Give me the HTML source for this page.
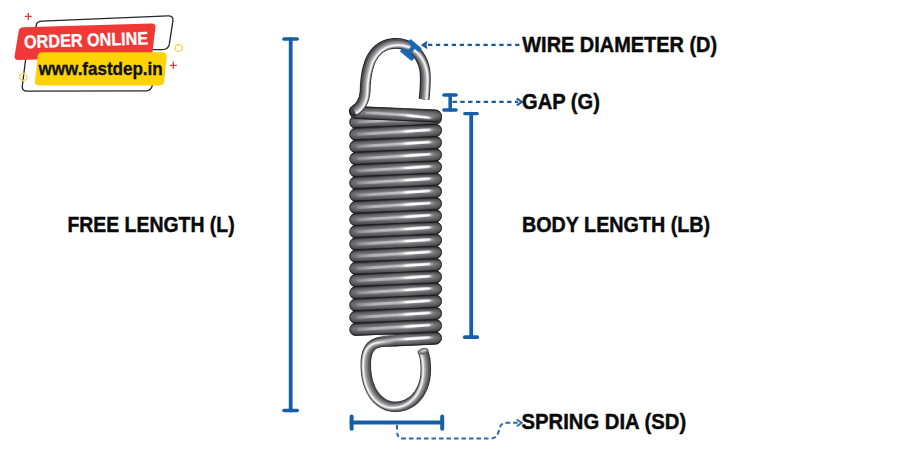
<!DOCTYPE html>
<html><head><meta charset="utf-8">
<style>
html,body{margin:0;padding:0;background:#fff;width:900px;height:450px;overflow:hidden}
svg{display:block}
text{font-family:"Liberation Sans",sans-serif;font-weight:bold}
</style></head>
<body>
<svg width="900" height="450" viewBox="0 0 900 450">
<defs>
  <linearGradient id="coilV" x1="0" y1="0" x2="0" y2="1">
    <stop offset="0" stop-color="#1e1e22"/>
    <stop offset="0.08" stop-color="#3c3c40"/>
    <stop offset="0.22" stop-color="#66666a"/>
    <stop offset="0.42" stop-color="#828286"/>
    <stop offset="0.62" stop-color="#76767a"/>
    <stop offset="0.85" stop-color="#525256"/>
    <stop offset="1" stop-color="#1e1e22"/>
  </linearGradient>

  
  <clipPath id="clipB19"><path d="M386 320 L450 320 L450 350 L386 350 Q380 345 386 320 Z"/></clipPath>
  <linearGradient id="coilV0" x1="0" y1="0" x2="0" y2="1">
    <stop offset="0" stop-color="#2a2a2e"/>
    <stop offset="0.25" stop-color="#4a4a4e"/>
    <stop offset="0.6" stop-color="#6a6a6e"/>
    <stop offset="1" stop-color="#55555a"/>
  </linearGradient>
  <linearGradient id="hl0" gradientUnits="userSpaceOnUse" x1="364" y1="0" x2="420" y2="0">
    <stop offset="0" stop-color="#fff" stop-opacity="0"/>
    <stop offset="0.35" stop-color="#fff" stop-opacity="0.6"/>
    <stop offset="0.7" stop-color="#fff" stop-opacity="0.45"/>
    <stop offset="1" stop-color="#fff" stop-opacity="0"/>
  </linearGradient>
  <linearGradient id="g0fade" gradientUnits="userSpaceOnUse" x1="356" y1="0" x2="420" y2="0">
    <stop offset="0" stop-color="#1c1c1f" stop-opacity="1"/>
    <stop offset="1" stop-color="#1c1c1f" stop-opacity="0"/>
  </linearGradient>
  <linearGradient id="b19fade" gradientUnits="userSpaceOnUse" x1="378" y1="0" x2="396" y2="0">
    <stop offset="0" stop-color="#fff" stop-opacity="0"/>
    <stop offset="1" stop-color="#fff" stop-opacity="1"/>
  </linearGradient>
  <mask id="maskB19" maskUnits="userSpaceOnUse" x="340" y="320" width="110" height="40"><rect x="340" y="320" width="110" height="40" fill="url(#b19fade)"/></mask>
  <linearGradient id="coilH" x1="0" y1="0" x2="1" y2="0">
    <stop offset="0" stop-color="#000" stop-opacity="0.25"/>
    <stop offset="0.08" stop-color="#000" stop-opacity="0.05"/>
    <stop offset="0.6" stop-color="#fff" stop-opacity="0.06"/>
    <stop offset="0.92" stop-color="#000" stop-opacity="0.05"/>
    <stop offset="1" stop-color="#000" stop-opacity="0.3"/>
  </linearGradient>
  <linearGradient id="hlH" gradientUnits="userSpaceOnUse" x1="4" y1="0" x2="84" y2="0">
    <stop offset="0" stop-color="#fff" stop-opacity="0.1"/>
    <stop offset="0.25" stop-color="#fff" stop-opacity="0.45"/>
    <stop offset="0.55" stop-color="#fff" stop-opacity="0.5"/>
    <stop offset="0.72" stop-color="#fff" stop-opacity="1"/>
    <stop offset="0.9" stop-color="#fff" stop-opacity="0.8"/>
    <stop offset="1" stop-color="#fff" stop-opacity="0.1"/>
  </linearGradient>
  <filter id="blur2" x="-10%" y="-10%" width="120%" height="120%"><feGaussianBlur stdDeviation="0.6"/></filter>
  <filter id="blur1" filterUnits="userSpaceOnUse" x="-1000" y="-1000" width="3000" height="3000"><feGaussianBlur stdDeviation="0.7"/></filter>

</defs>

<!-- ===== Badge ===== -->
<g id="badge">
  <!-- outlines -->
  <path d="M35.5 28.5 L36.6 24 Q37.5 21.3 42 21.1 L168 15.9 Q173.6 15.8 172.9 20.8 L169.3 44.4 Q168.3 49.6 162 49.6 L148 49.6" fill="none" stroke="#262626" stroke-width="1.3"/>
  <path d="M25.8 58 L22.3 86 Q21.9 91.2 27 91.2 L146.5 90.8 Q151 90.7 152.5 85" fill="none" stroke="#262626" stroke-width="1.3"/>
  <!-- red -->
  <path d="M23.5 27.2 L151.5 23.4 Q156 23.3 155.5 27.5 L152.4 52.5 Q152 56.3 148 56.4 L18.5 60 Q14.2 60.1 14.6 56 L18.6 31.5 Q19.2 27.3 23.5 27.2 Z" fill="#f03836"/>
  <!-- yellow -->
  <path d="M42.5 52.2 L162 52.2 Q167.2 52.2 166.7 56.8 L164.2 81.2 Q163.7 85.6 159.3 85.6 L39 85.6 Q34.6 85.6 35 81.2 L37.6 56.6 Q38.1 52.2 42.5 52.2 Z" fill="#fed305"/>
  <text transform="translate(24.2 48.2) rotate(-1.8) scale(0.89 1)" font-size="18.2" fill="#fff" stroke="#fff" stroke-width="0.3">ORDER ONLINE</text>
  <text transform="translate(38.6 74.9) scale(0.915 1)" font-size="18.6" fill="#111" stroke="#111" stroke-width="0.35">www.fastdep.in</text>
  <!-- plus signs -->
  <path d="M24.8 16.4 H31.8 M28.3 12.9 V19.9" stroke="#e0383b" stroke-width="1.3"/>
  <path d="M169.8 65.3 H176.8 M173.3 61.8 V68.8" stroke="#e0383b" stroke-width="1.3"/>
  <!-- circles -->
  <circle cx="178.7" cy="48" r="3.6" fill="none" stroke="#f0d860" stroke-width="1.5"/>
  <circle cx="23.1" cy="77" r="3.6" fill="none" stroke="#f0d860" stroke-width="1.5"/>
</g>

<!-- ===== Free length ===== -->
<g stroke="#175ea9" stroke-linecap="round">
  <line x1="290.7" y1="39" x2="290.7" y2="410.5" stroke-width="3.8"/>
  <line x1="284" y1="39" x2="297.2" y2="39" stroke-width="3.6"/>
  <line x1="284" y1="410.5" x2="297.2" y2="410.5" stroke-width="3.6"/>
</g>
<text transform="translate(67.4 231.8) scale(0.904 1)" font-size="21.5" fill="#0a0a0a" stroke="#0a0a0a" stroke-width="0.45">FREE LENGTH (L)</text>

<!-- ===== Body length ===== -->
<g stroke="#175ea9" stroke-linecap="round">
  <line x1="471.2" y1="113.6" x2="471.2" y2="337.2" stroke-width="3.8"/>
  <line x1="464.8" y1="113.6" x2="477.2" y2="113.6" stroke-width="3.4"/>
  <line x1="464.8" y1="337.2" x2="477.2" y2="337.2" stroke-width="3.8"/>
</g>
<text transform="translate(522.0 231.8) scale(0.918 1)" font-size="21.5" fill="#0a0a0a" stroke="#0a0a0a" stroke-width="0.45">BODY LENGTH (LB)</text>

<!-- ===== Gap ===== -->
<g stroke="#175ea9" stroke-linecap="round">
  <line x1="450.2" y1="95" x2="450.2" y2="110" stroke-width="3.6"/>
  <line x1="444" y1="95" x2="456" y2="95" stroke-width="3.6"/>
  <line x1="444" y1="110" x2="456" y2="110" stroke-width="3.6"/>
</g>
<line x1="452.5" y1="101.9" x2="518" y2="101.9" stroke="#205b9e" stroke-width="2.3" stroke-dasharray="4.4 3.4"/>
<path d="M516.8 98.4 L521.8 101.9 L516.8 105.4" fill="none" stroke="#205b9e" stroke-width="2.1"/>
<text transform="translate(522.1 108.8) scale(0.935 1)" font-size="21.5" fill="#0a0a0a" stroke="#0a0a0a" stroke-width="0.45">GAP (G)</text>

<!-- ===== Spring dia ===== -->
<g stroke="#175ea9" stroke-linecap="round">
  <line x1="351.6" y1="422.6" x2="442.2" y2="422.6" stroke-width="4"/>
  <line x1="351.6" y1="416.5" x2="351.6" y2="428.7" stroke-width="4"/>
  <line x1="442.2" y1="416.5" x2="442.2" y2="428.7" stroke-width="4"/>
</g>
<path d="M397 425 V431 Q397 438.6 404 438.6 H490 Q497 438.6 498.8 431 L500.5 426 Q502 422.8 507 422.8 H520" fill="none" stroke="#2a68ac" stroke-width="2" stroke-dasharray="4.6 2.9"/>
<path d="M516.8 419.4 L521.7 422.8 L516.8 426.2" fill="none" stroke="#2a68ac" stroke-width="1.8"/>
<text transform="translate(521.6 428.9) scale(0.942 1)" font-size="21.5" fill="#0a0a0a" stroke="#0a0a0a" stroke-width="0.45">SPRING DIA (SD)</text>

<!-- ===== Wire diameter ===== -->
<line x1="428" y1="44.8" x2="523" y2="44.8" stroke="#1e5898" stroke-width="2.2" stroke-dasharray="4.3 3.62"/>
<path d="M421.8 45 L426.8 41.8 L425.8 45 L426.8 48.2 Z" fill="#1e5898" stroke="#1e5898" stroke-width="1.1" stroke-linejoin="round"/>
<text transform="translate(522.3 51.8) scale(0.927 1)" font-size="21.5" fill="#0a0a0a" stroke="#0a0a0a" stroke-width="0.45">WIRE DIAMETER (D)</text>

<!-- ===== Spring ===== -->
<g id="spring">
<g filter="url(#blur2)"><path d="M436.0 338.4 434.1 338.5 432.2 338.6 430.3 338.8 428.4 338.9 426.4 339.0 424.4 339.1 422.4 339.2 420.3 339.4 418.3 339.5 416.2 339.6 414.2 339.7 412.1 339.9 410.0 340.0 407.9 340.1 405.8 340.3 403.8 340.4 401.7 340.5 399.7 340.6 397.6 340.8 395.6 340.9 393.6 341.0 391.6 341.1 389.7 341.2 387.8 341.4 385.9 341.5 384.0 341.6 382.6 341.7 381.3 341.9 380.1 342.1 378.9 342.3 377.7 342.6 376.6 343.0 375.6 343.4 374.6 343.9 373.7 344.4 372.8 345.0 372.0 345.6 371.2 346.3 370.5 347.1 369.8 347.9 369.2 348.9 368.6 349.8 368.1 350.9 367.6 352.0 367.2 353.2 366.9 354.5 366.6 355.9 366.3 357.3 366.1 358.9 365.9 360.5 365.8 362.2 365.8 364.0 365.8 367.2 366.0 370.2 366.3 373.2 366.7 376.0 367.2 378.7 367.8 381.3 368.5 383.7 369.4 386.1 370.3 388.3 371.3 390.4 372.3 392.3 373.5 394.2 374.7 395.9 376.0 397.5 377.3 399.0 378.8 400.3 380.2 401.5 381.7 402.6 383.3 403.6 384.9 404.5 386.5 405.2 388.2 405.8 389.9 406.2 391.6 406.5 393.3 406.7 395.0 406.8 397.2 406.7 399.3 406.5 401.3 406.1 403.2 405.7 405.1 405.0 406.9 404.3 408.7 403.4 410.4 402.4 412.0 401.3 413.5 400.1 414.9 398.8 416.3 397.4 417.5 395.9 418.7 394.3 419.8 392.6 420.8 390.9 421.7 389.1 422.6 387.2 423.3 385.2 424.0 383.2 424.5 381.1 425.0 379.0 425.3 376.8 425.6 374.6 425.7 372.3 425.8 370.0 425.8 369.0 425.8 368.0 425.8 367.0 425.7 366.1 425.7 365.2 425.6 364.4 425.6 363.5 425.5 362.7 425.4 361.9 425.4 361.2 425.3 360.5 425.2 359.8 425.1 359.1 425.0 358.4 424.8 357.7 424.7 357.1 424.6 356.5 424.4 355.9 424.3 355.3 424.1 354.7 423.9 354.2 423.8 353.6 423.6 353.1 423.4 352.5 423.2 352.0 423.0 351.5" fill="none" stroke="#333337" stroke-width="10.50" stroke-linejoin="round"/>
<path d="M436.0 338.5 434.1 338.6 432.2 338.7 430.3 338.8 428.4 338.9 426.4 339.1 424.4 339.2 422.4 339.3 420.3 339.4 418.3 339.6 416.2 339.7 414.2 339.8 412.1 339.9 410.0 340.1 407.9 340.2 405.9 340.3 403.8 340.5 401.7 340.6 399.7 340.7 397.6 340.8 395.6 341.0 393.6 341.1 391.6 341.2 389.7 341.3 387.8 341.4 385.9 341.6 384.0 341.7 382.6 341.8 381.3 341.9 380.1 342.1 378.9 342.4 377.7 342.6 376.6 343.0 375.6 343.4 374.6 343.8 373.7 344.3 372.8 344.9 371.9 345.5 371.1 346.2 370.4 347.0 369.7 347.8 369.0 348.8 368.4 349.7 367.9 350.8 367.4 351.9 367.0 353.2 366.6 354.5 366.3 355.8 366.1 357.3 365.9 358.8 365.7 360.5 365.6 362.2 365.5 364.0 365.6 367.2 365.7 370.2 366.0 373.2 366.4 376.0 366.9 378.7 367.6 381.3 368.3 383.8 369.1 386.1 370.0 388.4 371.0 390.5 372.1 392.5 373.3 394.3 374.5 396.1 375.8 397.7 377.2 399.1 378.6 400.5 380.1 401.7 381.6 402.8 383.2 403.8 384.8 404.6 386.4 405.3 388.1 405.9 389.8 406.4 391.5 406.7 393.3 406.8 395.0 406.9 397.2 406.8 399.3 406.6 401.3 406.2 403.2 405.7 405.1 405.0 406.9 404.3 408.7 403.4 410.3 402.4 411.9 401.3 413.4 400.0 414.8 398.7 416.2 397.3 417.4 395.8 418.6 394.2 419.7 392.5 420.7 390.8 421.6 389.0 422.4 387.1 423.1 385.1 423.8 383.1 424.3 381.0 424.7 378.9 425.1 376.7 425.3 374.5 425.5 372.3 425.5 370.0 425.5 369.0 425.5 368.0 425.5 367.0 425.5 366.1 425.4 365.2 425.4 364.4 425.3 363.6 425.3 362.7 425.2 362.0 425.1 361.2 425.0 360.5 424.9 359.8 424.8 359.1 424.7 358.4 424.6 357.8 424.4 357.2 424.3 356.6 424.2 356.0 424.0 355.4 423.9 354.8 423.7 354.3 423.5 353.7 423.3 353.2 423.1 352.6 422.9 352.1 422.7 351.6" fill="none" stroke="#56565a" stroke-width="8.82" stroke-linejoin="round"/>
<path d="M436.0 338.7 434.2 338.8 432.3 338.9 430.3 339.0 428.4 339.2 426.4 339.3 424.4 339.4 422.4 339.5 420.3 339.6 418.3 339.8 416.2 339.9 414.2 340.0 412.1 340.2 410.0 340.3 407.9 340.4 405.9 340.5 403.8 340.7 401.7 340.8 399.7 340.9 397.7 341.0 395.6 341.2 393.6 341.3 391.7 341.4 389.7 341.5 387.8 341.6 385.9 341.8 384.0 341.9 382.7 342.0 381.4 342.1 380.1 342.2 378.9 342.4 377.8 342.7 376.6 343.0 375.6 343.3 374.5 343.7 373.6 344.2 372.6 344.7 371.7 345.3 370.9 346.0 370.1 346.7 369.3 347.6 368.6 348.5 367.9 349.5 367.4 350.6 366.8 351.7 366.4 353.0 366.0 354.3 365.6 355.7 365.3 357.2 365.1 358.8 364.9 360.4 364.8 362.2 364.8 364.0 364.8 367.2 364.9 370.3 365.2 373.3 365.6 376.2 366.1 378.9 366.8 381.5 367.5 384.0 368.3 386.4 369.3 388.7 370.3 390.8 371.4 392.9 372.6 394.8 373.9 396.5 375.2 398.2 376.6 399.7 378.1 401.0 379.7 402.3 381.2 403.4 382.9 404.3 384.6 405.1 386.3 405.8 388.0 406.4 389.7 406.8 391.5 407.0 393.2 407.2 395.0 407.1 397.2 407.0 399.3 406.7 401.3 406.3 403.3 405.7 405.1 405.0 406.9 404.2 408.6 403.2 410.2 402.2 411.7 401.1 413.2 399.8 414.6 398.5 415.9 397.0 417.1 395.5 418.2 393.9 419.2 392.3 420.2 390.5 421.0 388.7 421.8 386.8 422.5 384.9 423.1 382.9 423.6 380.9 424.0 378.8 424.4 376.6 424.6 374.5 424.7 372.2 424.8 370.0 424.8 369.0 424.7 368.0 424.7 367.1 424.7 366.2 424.6 365.3 424.6 364.4 424.5 363.6 424.5 362.8 424.4 362.1 424.3 361.3 424.2 360.6 424.1 359.9 424.0 359.2 423.9 358.6 423.8 358.0 423.6 357.3 423.5 356.7 423.4 356.2 423.2 355.6 423.1 355.0 422.9 354.5 422.7 354.0 422.6 353.4 422.4 352.9 422.2 352.4 422.0 351.9" fill="none" stroke="#7a7a7e" stroke-width="6.72" stroke-linejoin="round"/>
<path d="M436.0 338.9 434.2 339.0 432.3 339.1 430.3 339.2 428.4 339.4 426.4 339.5 424.4 339.6 422.4 339.7 420.4 339.9 418.3 340.0 416.2 340.1 414.2 340.2 412.1 340.4 410.0 340.5 408.0 340.6 405.9 340.7 403.8 340.9 401.8 341.0 399.7 341.1 397.7 341.2 395.6 341.4 393.6 341.5 391.7 341.6 389.7 341.7 387.8 341.9 385.9 342.0 384.0 342.1 382.7 342.1 381.4 342.2 380.1 342.3 378.9 342.5 377.8 342.7 376.6 342.9 375.5 343.2 374.5 343.6 373.5 344.0 372.5 344.5 371.5 345.1 370.6 345.7 369.7 346.5 368.9 347.3 368.2 348.2 367.4 349.2 366.8 350.3 366.2 351.5 365.7 352.8 365.3 354.1 364.9 355.6 364.6 357.1 364.4 358.7 364.2 360.4 364.1 362.1 364.0 364.0 364.0 367.2 364.2 370.4 364.4 373.4 364.8 376.3 365.3 379.1 366.0 381.7 366.7 384.3 367.6 386.7 368.5 389.0 369.6 391.2 370.7 393.3 371.9 395.2 373.3 397.0 374.6 398.7 376.1 400.2 377.6 401.6 379.2 402.8 380.9 403.9 382.6 404.9 384.3 405.7 386.1 406.3 387.8 406.8 389.6 407.2 391.4 407.4 393.2 407.5 395.0 407.4 397.2 407.2 399.3 406.9 401.3 406.4 403.3 405.7 405.1 405.0 406.9 404.1 408.5 403.1 410.1 402.0 411.6 400.8 413.0 399.6 414.3 398.2 415.6 396.8 416.7 395.2 417.8 393.7 418.8 392.0 419.7 390.3 420.5 388.5 421.2 386.6 421.9 384.7 422.5 382.7 422.9 380.7 423.3 378.6 423.6 376.5 423.8 374.4 424.0 372.2 424.0 370.0 424.0 369.0 424.0 368.0 423.9 367.1 423.9 366.2 423.8 365.3 423.8 364.5 423.7 363.7 423.7 362.9 423.6 362.1 423.5 361.4 423.4 360.7 423.3 360.0 423.2 359.4 423.1 358.7 423.0 358.1 422.8 357.5 422.7 356.9 422.6 356.4 422.4 355.8 422.3 355.3 422.1 354.7 422.0 354.2 421.8 353.7 421.6 353.2 421.4 352.7 421.2 352.2" fill="none" stroke="#9e9ea2" stroke-width="4.62" stroke-linejoin="round"/>
<path d="M436.0 339.0 434.2 339.1 432.3 339.3 430.4 339.4 428.4 339.5 426.4 339.6 424.4 339.8 422.4 339.9 420.4 340.0 418.3 340.1 416.3 340.3 414.2 340.4 412.1 340.5 410.0 340.6 408.0 340.8 405.9 340.9 403.8 341.0 401.8 341.1 399.7 341.3 397.7 341.4 395.7 341.5 393.7 341.6 391.7 341.8 389.7 341.9 387.8 342.0 385.9 342.1 384.0 342.2 382.7 342.2 381.4 342.3 380.1 342.4 378.9 342.5 377.8 342.7 376.6 342.9 375.5 343.2 374.4 343.5 373.4 343.9 372.4 344.4 371.4 344.9 370.4 345.6 369.5 346.3 368.7 347.1 367.9 348.0 367.1 349.0 366.4 350.1 365.8 351.3 365.3 352.6 364.9 354.0 364.5 355.5 364.1 357.0 363.9 358.6 363.7 360.3 363.5 362.1 363.5 364.0 363.5 367.3 363.6 370.4 363.9 373.4 364.3 376.4 364.8 379.2 365.4 381.9 366.2 384.5 367.0 386.9 368.0 389.3 369.1 391.5 370.2 393.5 371.5 395.5 372.8 397.3 374.3 399.0 375.8 400.5 377.3 401.9 379.0 403.2 380.6 404.3 382.4 405.2 384.1 406.0 385.9 406.6 387.7 407.1 389.6 407.5 391.4 407.6 393.2 407.7 395.0 407.6 397.2 407.3 399.3 407.0 401.3 406.4 403.3 405.7 405.1 405.0 406.8 404.0 408.5 403.0 410.0 401.9 411.5 400.7 412.9 399.4 414.2 398.0 415.4 396.6 416.5 395.1 417.5 393.5 418.5 391.8 419.3 390.1 420.1 388.3 420.8 386.4 421.5 384.6 422.0 382.6 422.5 380.6 422.9 378.6 423.1 376.5 423.3 374.3 423.4 372.2 423.5 370.0 423.5 369.0 423.4 368.0 423.4 367.1 423.4 366.2 423.3 365.3 423.3 364.5 423.2 363.7 423.1 362.9 423.1 362.2 423.0 361.5 422.9 360.8 422.8 360.1 422.7 359.5 422.6 358.8 422.4 358.2 422.3 357.6 422.2 357.1 422.0 356.5 421.9 356.0 421.7 355.4 421.6 354.9 421.4 354.4 421.3 353.9 421.1 353.4 420.9 352.9 420.7 352.4" fill="none" stroke="#c6c6c8" stroke-width="2.73" stroke-linejoin="round"/>
<path d="M436.0 339.1 434.2 339.2 432.3 339.3 430.4 339.5 428.4 339.6 426.4 339.7 424.4 339.8 422.4 339.9 420.4 340.1 418.3 340.2 416.3 340.3 414.2 340.5 412.1 340.6 410.0 340.7 408.0 340.8 405.9 341.0 403.8 341.1 401.8 341.2 399.7 341.3 397.7 341.5 395.7 341.6 393.7 341.7 391.7 341.8 389.7 341.9 387.8 342.1 385.9 342.2 384.0 342.3 382.7 342.3 381.4 342.4 380.2 342.4 378.9 342.6 377.8 342.7 376.6 342.9 375.5 343.2 374.4 343.5 373.4 343.9 372.3 344.3 371.3 344.8 370.3 345.5 369.4 346.2 368.5 347.0 367.7 347.9 366.9 348.9 366.3 350.1 365.6 351.3 365.1 352.6 364.6 354.0 364.2 355.4 363.9 357.0 363.6 358.6 363.4 360.3 363.3 362.1 363.2 364.0 363.2 367.3 363.4 370.4 363.6 373.5 364.0 376.4 364.5 379.2 365.2 382.0 365.9 384.5 366.8 387.0 367.8 389.4 368.8 391.6 370.0 393.7 371.3 395.6 372.6 397.5 374.1 399.2 375.6 400.7 377.2 402.1 378.8 403.3 380.5 404.4 382.3 405.4 384.1 406.2 385.9 406.8 387.7 407.3 389.5 407.6 391.4 407.8 393.2 407.8 395.0 407.7 397.2 407.4 399.3 407.0 401.3 406.4 403.3 405.8 405.1 404.9 406.8 404.0 408.5 403.0 410.0 401.9 411.4 400.6 412.8 399.3 414.1 398.0 415.3 396.5 416.4 395.0 417.4 393.4 418.3 391.7 419.2 390.0 420.0 388.2 420.7 386.4 421.3 384.5 421.8 382.5 422.3 380.5 422.6 378.5 422.9 376.4 423.1 374.3 423.2 372.2 423.2 370.0 423.2 369.0 423.2 368.0 423.1 367.1 423.1 366.2 423.1 365.4 423.0 364.5 422.9 363.7 422.9 363.0 422.8 362.2 422.7 361.5 422.6 360.8 422.5 360.1 422.4 359.5 422.3 358.9 422.2 358.3 422.0 357.7 421.9 357.1 421.8 356.6 421.6 356.0 421.5 355.5 421.3 355.0 421.2 354.5 421.0 354.0 420.8 353.5 420.6 353.0 420.5 352.5" fill="none" stroke="#f2f2f2" stroke-width="1.36" stroke-linejoin="round"/></g>
<g mask="url(#maskB19)"><g transform="translate(349.5 335.6) skewY(-2.481)"><rect x="0" y="0" width="92.3" height="12.6" rx="6.4" ry="6.4" fill="url(#coilV)"/><rect x="0" y="0" width="92.3" height="12.6" rx="6.4" ry="6.4" fill="url(#coilH)"/><path d="M8 6.9 Q40 6.4 84 5.4" stroke="url(#hlH)" stroke-width="2.8" fill="none" filter="url(#blur1)"/><path d="M56 5.9 Q70 5.6 80 5.4" stroke="#fff" stroke-width="1.8" fill="none" stroke-linecap="round" filter="url(#blur1)"/><rect x="0.3" y="0.3" width="91.7" height="12.0" rx="6.1" ry="6.1" fill="none" stroke="#1c1c1f" stroke-width="0.8"/></g></g>
<g transform="translate(349.5 115.70) skewY(-2.481)"><rect x="0" y="0" width="92.3" height="12.9" rx="6.4" ry="6.4" fill="url(#coilV)"/><rect x="0" y="0" width="92.3" height="12.9" rx="6.4" ry="6.4" fill="url(#coilH)"/><path d="M8 6.9 Q40 6.4 84 5.4" stroke="url(#hlH)" stroke-width="2.8" fill="none" filter="url(#blur1)"/><path d="M56 5.9 Q70 5.6 80 5.4" stroke="#fff" stroke-width="1.8" fill="none" stroke-linecap="round" filter="url(#blur1)"/><rect x="0.3" y="0.3" width="91.7" height="12.3" rx="6.1" ry="6.1" fill="none" stroke="#1c1c1f" stroke-width="0.8"/></g>
<g transform="translate(349.5 127.90) skewY(-2.481)"><rect x="0" y="0" width="92.3" height="12.9" rx="6.4" ry="6.4" fill="url(#coilV)"/><rect x="0" y="0" width="92.3" height="12.9" rx="6.4" ry="6.4" fill="url(#coilH)"/><path d="M8 6.9 Q40 6.4 84 5.4" stroke="url(#hlH)" stroke-width="2.8" fill="none" filter="url(#blur1)"/><path d="M56 5.9 Q70 5.6 80 5.4" stroke="#fff" stroke-width="1.8" fill="none" stroke-linecap="round" filter="url(#blur1)"/><rect x="0.3" y="0.3" width="91.7" height="12.3" rx="6.1" ry="6.1" fill="none" stroke="#1c1c1f" stroke-width="0.8"/></g>
<g transform="translate(349.5 140.10) skewY(-2.481)"><rect x="0" y="0" width="92.3" height="12.9" rx="6.4" ry="6.4" fill="url(#coilV)"/><rect x="0" y="0" width="92.3" height="12.9" rx="6.4" ry="6.4" fill="url(#coilH)"/><path d="M8 6.9 Q40 6.4 84 5.4" stroke="url(#hlH)" stroke-width="2.8" fill="none" filter="url(#blur1)"/><path d="M56 5.9 Q70 5.6 80 5.4" stroke="#fff" stroke-width="1.8" fill="none" stroke-linecap="round" filter="url(#blur1)"/><rect x="0.3" y="0.3" width="91.7" height="12.3" rx="6.1" ry="6.1" fill="none" stroke="#1c1c1f" stroke-width="0.8"/></g>
<g transform="translate(349.5 152.30) skewY(-2.481)"><rect x="0" y="0" width="92.3" height="12.9" rx="6.4" ry="6.4" fill="url(#coilV)"/><rect x="0" y="0" width="92.3" height="12.9" rx="6.4" ry="6.4" fill="url(#coilH)"/><path d="M8 6.9 Q40 6.4 84 5.4" stroke="url(#hlH)" stroke-width="2.8" fill="none" filter="url(#blur1)"/><path d="M56 5.9 Q70 5.6 80 5.4" stroke="#fff" stroke-width="1.8" fill="none" stroke-linecap="round" filter="url(#blur1)"/><rect x="0.3" y="0.3" width="91.7" height="12.3" rx="6.1" ry="6.1" fill="none" stroke="#1c1c1f" stroke-width="0.8"/></g>
<g transform="translate(349.5 164.50) skewY(-2.481)"><rect x="0" y="0" width="92.3" height="12.9" rx="6.4" ry="6.4" fill="url(#coilV)"/><rect x="0" y="0" width="92.3" height="12.9" rx="6.4" ry="6.4" fill="url(#coilH)"/><path d="M8 6.9 Q40 6.4 84 5.4" stroke="url(#hlH)" stroke-width="2.8" fill="none" filter="url(#blur1)"/><path d="M56 5.9 Q70 5.6 80 5.4" stroke="#fff" stroke-width="1.8" fill="none" stroke-linecap="round" filter="url(#blur1)"/><rect x="0.3" y="0.3" width="91.7" height="12.3" rx="6.1" ry="6.1" fill="none" stroke="#1c1c1f" stroke-width="0.8"/></g>
<g transform="translate(349.5 176.70) skewY(-2.481)"><rect x="0" y="0" width="92.3" height="12.9" rx="6.4" ry="6.4" fill="url(#coilV)"/><rect x="0" y="0" width="92.3" height="12.9" rx="6.4" ry="6.4" fill="url(#coilH)"/><path d="M8 6.9 Q40 6.4 84 5.4" stroke="url(#hlH)" stroke-width="2.8" fill="none" filter="url(#blur1)"/><path d="M56 5.9 Q70 5.6 80 5.4" stroke="#fff" stroke-width="1.8" fill="none" stroke-linecap="round" filter="url(#blur1)"/><rect x="0.3" y="0.3" width="91.7" height="12.3" rx="6.1" ry="6.1" fill="none" stroke="#1c1c1f" stroke-width="0.8"/></g>
<g transform="translate(349.5 188.90) skewY(-2.481)"><rect x="0" y="0" width="92.3" height="12.9" rx="6.4" ry="6.4" fill="url(#coilV)"/><rect x="0" y="0" width="92.3" height="12.9" rx="6.4" ry="6.4" fill="url(#coilH)"/><path d="M8 6.9 Q40 6.4 84 5.4" stroke="url(#hlH)" stroke-width="2.8" fill="none" filter="url(#blur1)"/><path d="M56 5.9 Q70 5.6 80 5.4" stroke="#fff" stroke-width="1.8" fill="none" stroke-linecap="round" filter="url(#blur1)"/><rect x="0.3" y="0.3" width="91.7" height="12.3" rx="6.1" ry="6.1" fill="none" stroke="#1c1c1f" stroke-width="0.8"/></g>
<g transform="translate(349.5 201.10) skewY(-2.481)"><rect x="0" y="0" width="92.3" height="12.9" rx="6.4" ry="6.4" fill="url(#coilV)"/><rect x="0" y="0" width="92.3" height="12.9" rx="6.4" ry="6.4" fill="url(#coilH)"/><path d="M8 6.9 Q40 6.4 84 5.4" stroke="url(#hlH)" stroke-width="2.8" fill="none" filter="url(#blur1)"/><path d="M56 5.9 Q70 5.6 80 5.4" stroke="#fff" stroke-width="1.8" fill="none" stroke-linecap="round" filter="url(#blur1)"/><rect x="0.3" y="0.3" width="91.7" height="12.3" rx="6.1" ry="6.1" fill="none" stroke="#1c1c1f" stroke-width="0.8"/></g>
<g transform="translate(349.5 213.30) skewY(-2.481)"><rect x="0" y="0" width="92.3" height="12.9" rx="6.4" ry="6.4" fill="url(#coilV)"/><rect x="0" y="0" width="92.3" height="12.9" rx="6.4" ry="6.4" fill="url(#coilH)"/><path d="M8 6.9 Q40 6.4 84 5.4" stroke="url(#hlH)" stroke-width="2.8" fill="none" filter="url(#blur1)"/><path d="M56 5.9 Q70 5.6 80 5.4" stroke="#fff" stroke-width="1.8" fill="none" stroke-linecap="round" filter="url(#blur1)"/><rect x="0.3" y="0.3" width="91.7" height="12.3" rx="6.1" ry="6.1" fill="none" stroke="#1c1c1f" stroke-width="0.8"/></g>
<g transform="translate(349.5 225.50) skewY(-2.481)"><rect x="0" y="0" width="92.3" height="12.9" rx="6.4" ry="6.4" fill="url(#coilV)"/><rect x="0" y="0" width="92.3" height="12.9" rx="6.4" ry="6.4" fill="url(#coilH)"/><path d="M8 6.9 Q40 6.4 84 5.4" stroke="url(#hlH)" stroke-width="2.8" fill="none" filter="url(#blur1)"/><path d="M56 5.9 Q70 5.6 80 5.4" stroke="#fff" stroke-width="1.8" fill="none" stroke-linecap="round" filter="url(#blur1)"/><rect x="0.3" y="0.3" width="91.7" height="12.3" rx="6.1" ry="6.1" fill="none" stroke="#1c1c1f" stroke-width="0.8"/></g>
<g transform="translate(349.5 237.70) skewY(-2.481)"><rect x="0" y="0" width="92.3" height="12.9" rx="6.4" ry="6.4" fill="url(#coilV)"/><rect x="0" y="0" width="92.3" height="12.9" rx="6.4" ry="6.4" fill="url(#coilH)"/><path d="M8 6.9 Q40 6.4 84 5.4" stroke="url(#hlH)" stroke-width="2.8" fill="none" filter="url(#blur1)"/><path d="M56 5.9 Q70 5.6 80 5.4" stroke="#fff" stroke-width="1.8" fill="none" stroke-linecap="round" filter="url(#blur1)"/><rect x="0.3" y="0.3" width="91.7" height="12.3" rx="6.1" ry="6.1" fill="none" stroke="#1c1c1f" stroke-width="0.8"/></g>
<g transform="translate(349.5 249.90) skewY(-2.481)"><rect x="0" y="0" width="92.3" height="12.9" rx="6.4" ry="6.4" fill="url(#coilV)"/><rect x="0" y="0" width="92.3" height="12.9" rx="6.4" ry="6.4" fill="url(#coilH)"/><path d="M8 6.9 Q40 6.4 84 5.4" stroke="url(#hlH)" stroke-width="2.8" fill="none" filter="url(#blur1)"/><path d="M56 5.9 Q70 5.6 80 5.4" stroke="#fff" stroke-width="1.8" fill="none" stroke-linecap="round" filter="url(#blur1)"/><rect x="0.3" y="0.3" width="91.7" height="12.3" rx="6.1" ry="6.1" fill="none" stroke="#1c1c1f" stroke-width="0.8"/></g>
<g transform="translate(349.5 262.10) skewY(-2.481)"><rect x="0" y="0" width="92.3" height="12.9" rx="6.4" ry="6.4" fill="url(#coilV)"/><rect x="0" y="0" width="92.3" height="12.9" rx="6.4" ry="6.4" fill="url(#coilH)"/><path d="M8 6.9 Q40 6.4 84 5.4" stroke="url(#hlH)" stroke-width="2.8" fill="none" filter="url(#blur1)"/><path d="M56 5.9 Q70 5.6 80 5.4" stroke="#fff" stroke-width="1.8" fill="none" stroke-linecap="round" filter="url(#blur1)"/><rect x="0.3" y="0.3" width="91.7" height="12.3" rx="6.1" ry="6.1" fill="none" stroke="#1c1c1f" stroke-width="0.8"/></g>
<g transform="translate(349.5 274.30) skewY(-2.481)"><rect x="0" y="0" width="92.3" height="12.9" rx="6.4" ry="6.4" fill="url(#coilV)"/><rect x="0" y="0" width="92.3" height="12.9" rx="6.4" ry="6.4" fill="url(#coilH)"/><path d="M8 6.9 Q40 6.4 84 5.4" stroke="url(#hlH)" stroke-width="2.8" fill="none" filter="url(#blur1)"/><path d="M56 5.9 Q70 5.6 80 5.4" stroke="#fff" stroke-width="1.8" fill="none" stroke-linecap="round" filter="url(#blur1)"/><rect x="0.3" y="0.3" width="91.7" height="12.3" rx="6.1" ry="6.1" fill="none" stroke="#1c1c1f" stroke-width="0.8"/></g>
<g transform="translate(349.5 286.50) skewY(-2.481)"><rect x="0" y="0" width="92.3" height="12.9" rx="6.4" ry="6.4" fill="url(#coilV)"/><rect x="0" y="0" width="92.3" height="12.9" rx="6.4" ry="6.4" fill="url(#coilH)"/><path d="M8 6.9 Q40 6.4 84 5.4" stroke="url(#hlH)" stroke-width="2.8" fill="none" filter="url(#blur1)"/><path d="M56 5.9 Q70 5.6 80 5.4" stroke="#fff" stroke-width="1.8" fill="none" stroke-linecap="round" filter="url(#blur1)"/><rect x="0.3" y="0.3" width="91.7" height="12.3" rx="6.1" ry="6.1" fill="none" stroke="#1c1c1f" stroke-width="0.8"/></g>
<g transform="translate(349.5 298.70) skewY(-2.481)"><rect x="0" y="0" width="92.3" height="12.9" rx="6.4" ry="6.4" fill="url(#coilV)"/><rect x="0" y="0" width="92.3" height="12.9" rx="6.4" ry="6.4" fill="url(#coilH)"/><path d="M8 6.9 Q40 6.4 84 5.4" stroke="url(#hlH)" stroke-width="2.8" fill="none" filter="url(#blur1)"/><path d="M56 5.9 Q70 5.6 80 5.4" stroke="#fff" stroke-width="1.8" fill="none" stroke-linecap="round" filter="url(#blur1)"/><rect x="0.3" y="0.3" width="91.7" height="12.3" rx="6.1" ry="6.1" fill="none" stroke="#1c1c1f" stroke-width="0.8"/></g>
<g transform="translate(349.5 310.90) skewY(-2.481)"><rect x="0" y="0" width="92.3" height="12.9" rx="6.4" ry="6.4" fill="url(#coilV)"/><rect x="0" y="0" width="92.3" height="12.9" rx="6.4" ry="6.4" fill="url(#coilH)"/><path d="M8 6.9 Q40 6.4 84 5.4" stroke="url(#hlH)" stroke-width="2.8" fill="none" filter="url(#blur1)"/><path d="M56 5.9 Q70 5.6 80 5.4" stroke="#fff" stroke-width="1.8" fill="none" stroke-linecap="round" filter="url(#blur1)"/><rect x="0.3" y="0.3" width="91.7" height="12.3" rx="6.1" ry="6.1" fill="none" stroke="#1c1c1f" stroke-width="0.8"/></g>
<g transform="translate(349.5 323.10) skewY(-2.481)"><rect x="0" y="0" width="92.3" height="12.9" rx="6.4" ry="6.4" fill="url(#coilV)"/><rect x="0" y="0" width="92.3" height="12.9" rx="6.4" ry="6.4" fill="url(#coilH)"/><path d="M8 6.9 Q40 6.4 84 5.4" stroke="url(#hlH)" stroke-width="2.8" fill="none" filter="url(#blur1)"/><path d="M56 5.9 Q70 5.6 80 5.4" stroke="#fff" stroke-width="1.8" fill="none" stroke-linecap="round" filter="url(#blur1)"/><rect x="0.3" y="0.3" width="91.7" height="12.3" rx="6.1" ry="6.1" fill="none" stroke="#1c1c1f" stroke-width="0.8"/></g>
<g transform="translate(349.5 105.9) skewY(2.481)"><rect x="0" y="0" width="92.3" height="12.6" rx="6.3" ry="6.3" fill="url(#coilV)"/><rect x="0" y="0" width="92.3" height="12.6" rx="6.3" ry="6.3" fill="url(#coilH)"/><path d="M16 6.2 Q45 5.6 84 8.6" stroke="url(#hlH)" stroke-width="2.6" fill="none" filter="url(#blur1)"/><path d="M58 7.2 Q70 7.9 80 8.5" stroke="#fff" stroke-width="1.7" fill="none" stroke-linecap="round" filter="url(#blur1)"/><rect x="0.3" y="0.3" width="91.7" height="12.0" rx="6" ry="6" fill="none" stroke="#1c1c1f" stroke-width="0.8"/></g>
<g filter="url(#blur2)"><circle cx="354.30" cy="110.80" r="5.40" fill="#26262a"/>
<circle cx="354.90" cy="110.50" r="4.10" fill="#4a4a4e"/>
<path d="M354.3 110.8 355.0 110.4 355.6 110.0 356.2 109.5 356.9 109.0 357.5 108.5 358.1 107.9 358.7 107.3 359.2 106.7 359.8 106.0 360.3 105.3 360.8 104.6 361.3 103.8 361.8 103.0 362.3 102.1 362.7 101.2 363.1 100.3 363.4 99.4 363.8 98.4 364.1 97.3 364.3 96.3 364.6 95.1 364.8 94.0 364.9 92.8 365.1 91.6 365.2 90.3 365.2 89.0 365.2 87.9 365.3 86.7 365.3 85.6 365.4 84.5 365.5 83.3 365.6 82.2 365.7 81.1 365.8 80.0 365.9 78.9 366.1 77.8 366.2 76.8 366.4 75.7 366.5 74.6 366.7 73.6 366.9 72.5 367.1 71.4 367.4 70.4 367.6 69.3 367.9 68.3 368.2 67.2 368.5 66.2 368.8 65.2 369.1 64.1 369.5 63.1 369.8 62.0 370.2 61.0 370.9 59.6 371.6 58.2 372.3 56.9 373.1 55.7 373.9 54.5 374.7 53.4 375.6 52.4 376.4 51.4 377.3 50.5 378.2 49.6 379.2 48.8 380.2 48.1 381.1 47.4 382.2 46.8 383.2 46.3 384.3 45.7 385.3 45.3 386.4 44.9 387.6 44.5 388.7 44.2 389.9 44.0 391.1 43.8 392.3 43.6 393.5 43.5 394.7 43.4 396.0 43.4 397.9 43.5 399.8 43.7 401.7 44.0 403.5 44.4 405.2 44.9 406.9 45.6 408.6 46.4 410.1 47.2 411.6 48.2 413.1 49.3 414.5 50.5 415.8 51.7 417.0 53.1 418.2 54.5 419.3 56.0 420.3 57.6 421.2 59.3 422.0 61.0 422.8 62.8 423.4 64.7 424.0 66.6 424.5 68.6 424.8 70.6 425.1 72.7 425.2 74.8 425.3 77.0 425.3 78.0 425.3 79.0 425.3 80.0 425.3 81.0 425.2 81.9 425.2 82.9 425.2 83.8 425.2 84.7 425.1 85.6 425.1 86.4 425.0 87.3 425.0 88.1 425.0 89.0 424.9 89.8 424.8 90.6 424.8 91.5 424.7 92.3 424.6 93.1 424.6 93.9 424.5 94.7 424.4 95.4 424.3 96.2 424.3 97.0 424.2 97.8 424.1 98.6 424.0 99.4" fill="none" stroke="#26262a" stroke-width="10.80" stroke-linejoin="round"/>
<path d="M354.4 111.0 355.1 110.6 355.8 110.2 356.4 109.7 357.1 109.2 357.7 108.7 358.3 108.1 358.9 107.5 359.5 106.9 360.0 106.2 360.6 105.5 361.1 104.7 361.6 103.9 362.1 103.1 362.5 102.3 362.9 101.4 363.3 100.4 363.7 99.5 364.0 98.4 364.3 97.4 364.6 96.3 364.8 95.2 365.0 94.0 365.2 92.8 365.3 91.6 365.4 90.3 365.4 89.0 365.5 87.9 365.5 86.7 365.6 85.6 365.6 84.5 365.7 83.4 365.8 82.2 365.9 81.1 366.0 80.1 366.2 79.0 366.3 77.9 366.4 76.8 366.6 75.7 366.8 74.7 367.0 73.6 367.2 72.5 367.4 71.5 367.6 70.4 367.9 69.4 368.1 68.4 368.4 67.3 368.7 66.3 369.0 65.2 369.4 64.2 369.7 63.2 370.1 62.1 370.5 61.1 371.1 59.7 371.8 58.3 372.6 57.1 373.3 55.8 374.1 54.7 374.9 53.6 375.8 52.6 376.6 51.6 377.5 50.7 378.4 49.9 379.4 49.1 380.3 48.3 381.3 47.7 382.3 47.1 383.3 46.5 384.4 46.0 385.4 45.5 386.5 45.1 387.6 44.8 388.8 44.5 389.9 44.2 391.1 44.0 392.3 43.8 393.5 43.7 394.7 43.6 396.0 43.6 397.9 43.6 399.8 43.8 401.7 44.1 403.5 44.5 405.2 45.1 406.9 45.7 408.5 46.4 410.1 47.3 411.6 48.3 413.1 49.3 414.5 50.5 415.8 51.7 417.1 53.0 418.2 54.5 419.3 56.0 420.4 57.6 421.3 59.2 422.1 61.0 422.9 62.8 423.6 64.6 424.1 66.6 424.6 68.5 425.0 70.6 425.3 72.7 425.5 74.8 425.5 77.0 425.5 78.0 425.5 79.0 425.5 80.0 425.5 81.0 425.5 81.9 425.5 82.9 425.4 83.8 425.4 84.7 425.4 85.6 425.3 86.5 425.3 87.3 425.2 88.2 425.2 89.0 425.1 89.8 425.1 90.7 425.0 91.5 425.0 92.3 424.9 93.1 424.8 93.9 424.7 94.7 424.7 95.5 424.6 96.3 424.5 97.0 424.4 97.8 424.3 98.6 424.2 99.4" fill="none" stroke="#505054" stroke-width="9.07" stroke-linejoin="round"/>
<path d="M354.9 111.8 355.6 111.4 356.3 110.9 356.9 110.4 357.6 109.9 358.3 109.4 358.9 108.8 359.5 108.1 360.1 107.5 360.7 106.7 361.3 106.0 361.8 105.2 362.3 104.4 362.8 103.5 363.3 102.6 363.7 101.7 364.1 100.7 364.5 99.7 364.8 98.7 365.1 97.6 365.4 96.5 365.6 95.3 365.8 94.1 365.9 92.9 366.0 91.7 366.1 90.4 366.1 89.0 366.2 87.9 366.2 86.8 366.3 85.6 366.4 84.5 366.4 83.4 366.5 82.3 366.6 81.2 366.8 80.1 366.9 79.0 367.0 78.0 367.2 76.9 367.4 75.8 367.5 74.8 367.7 73.7 367.9 72.7 368.2 71.7 368.4 70.6 368.6 69.6 368.9 68.6 369.2 67.5 369.5 66.5 369.8 65.5 370.1 64.5 370.5 63.4 370.9 62.4 371.2 61.4 371.9 60.1 372.6 58.8 373.3 57.5 374.1 56.3 374.9 55.2 375.6 54.1 376.5 53.2 377.3 52.2 378.1 51.3 379.0 50.5 379.9 49.8 380.8 49.1 381.8 48.4 382.7 47.8 383.7 47.2 384.7 46.7 385.7 46.3 386.8 45.9 387.9 45.5 388.9 45.2 390.1 44.9 391.2 44.7 392.4 44.5 393.6 44.3 394.8 44.2 396.0 44.2 397.9 44.2 399.7 44.3 401.6 44.5 403.3 44.9 405.1 45.4 406.8 45.9 408.4 46.6 410.0 47.4 411.6 48.3 413.1 49.3 414.5 50.5 415.9 51.7 417.1 53.0 418.4 54.4 419.5 55.9 420.6 57.4 421.6 59.1 422.5 60.8 423.3 62.6 424.0 64.5 424.6 66.4 425.2 68.4 425.6 70.5 425.9 72.6 426.1 74.8 426.2 77.0 426.2 78.0 426.2 79.0 426.2 80.0 426.2 81.0 426.2 82.0 426.1 82.9 426.1 83.8 426.1 84.7 426.1 85.6 426.0 86.5 426.0 87.3 425.9 88.2 425.9 89.0 425.8 89.9 425.8 90.7 425.7 91.5 425.7 92.3 425.6 93.1 425.5 93.9 425.5 94.7 425.4 95.5 425.3 96.3 425.2 97.1 425.1 97.9 425.1 98.7 425.0 99.5" fill="none" stroke="#7a7a7e" stroke-width="6.91" stroke-linejoin="round"/>
<path d="M355.3 112.5 356.0 112.1 356.8 111.6 357.5 111.1 358.2 110.6 358.9 110.0 359.5 109.4 360.2 108.7 360.8 108.0 361.4 107.3 362.0 106.5 362.6 105.7 363.1 104.8 363.6 104.0 364.1 103.0 364.5 102.1 364.9 101.0 365.3 100.0 365.6 98.9 365.9 97.8 366.1 96.7 366.3 95.5 366.5 94.3 366.6 93.0 366.7 91.7 366.8 90.4 366.8 89.1 366.8 87.9 366.9 86.8 367.0 85.7 367.1 84.6 367.1 83.5 367.2 82.4 367.4 81.3 367.5 80.2 367.6 79.1 367.8 78.1 367.9 77.0 368.1 76.0 368.3 74.9 368.5 73.9 368.7 72.8 368.9 71.8 369.2 70.8 369.4 69.8 369.7 68.8 370.0 67.7 370.3 66.7 370.6 65.7 370.9 64.7 371.3 63.7 371.6 62.7 372.0 61.8 372.7 60.5 373.4 59.2 374.1 58.0 374.8 56.8 375.6 55.7 376.3 54.7 377.1 53.7 377.9 52.8 378.8 52.0 379.6 51.2 380.5 50.4 381.3 49.8 382.2 49.1 383.2 48.5 384.1 48.0 385.0 47.5 386.0 47.0 387.0 46.6 388.1 46.2 389.1 45.9 390.2 45.6 391.3 45.3 392.4 45.1 393.6 45.0 394.8 44.8 396.0 44.8 397.9 44.7 399.7 44.8 401.5 45.0 403.2 45.3 405.0 45.7 406.7 46.2 408.3 46.8 409.9 47.6 411.5 48.4 413.0 49.4 414.5 50.4 415.9 51.6 417.2 52.9 418.5 54.3 419.7 55.7 420.8 57.3 421.9 58.9 422.8 60.7 423.7 62.5 424.4 64.3 425.1 66.3 425.7 68.3 426.1 70.4 426.5 72.6 426.7 74.8 426.8 77.0 426.9 78.0 426.9 79.0 426.9 80.0 426.8 81.0 426.8 82.0 426.8 82.9 426.8 83.8 426.8 84.7 426.7 85.6 426.7 86.5 426.7 87.4 426.6 88.2 426.6 89.1 426.5 89.9 426.5 90.8 426.4 91.6 426.4 92.4 426.3 93.2 426.2 94.0 426.2 94.8 426.1 95.6 426.0 96.4 426.0 97.2 425.9 98.0 425.8 98.8 425.7 99.6" fill="none" stroke="#a2a2a6" stroke-width="4.75" stroke-linejoin="round"/>
<path d="M355.6 113.0 356.3 112.6 357.1 112.1 357.8 111.6 358.5 111.0 359.3 110.5 359.9 109.8 360.6 109.1 361.3 108.4 361.9 107.7 362.5 106.9 363.1 106.0 363.6 105.2 364.1 104.2 364.6 103.3 365.0 102.3 365.4 101.3 365.8 100.2 366.1 99.1 366.4 98.0 366.6 96.8 366.8 95.6 367.0 94.3 367.1 93.1 367.2 91.8 367.2 90.4 367.3 89.1 367.3 87.9 367.4 86.8 367.4 85.7 367.5 84.6 367.6 83.5 367.7 82.4 367.8 81.3 368.0 80.3 368.1 79.2 368.3 78.1 368.4 77.1 368.6 76.0 368.8 75.0 369.0 74.0 369.2 72.9 369.4 71.9 369.7 70.9 369.9 69.9 370.2 68.9 370.5 67.9 370.8 66.9 371.1 65.9 371.4 64.9 371.8 63.9 372.2 62.9 372.5 62.0 373.2 60.7 373.9 59.5 374.6 58.3 375.3 57.1 376.1 56.1 376.8 55.1 377.6 54.1 378.4 53.2 379.2 52.4 380.0 51.6 380.8 50.9 381.7 50.2 382.5 49.6 383.4 49.0 384.3 48.5 385.3 48.0 386.2 47.5 387.2 47.1 388.2 46.7 389.2 46.3 390.3 46.0 391.4 45.8 392.5 45.6 393.6 45.4 394.8 45.3 396.0 45.1 397.8 45.1 399.6 45.1 401.4 45.3 403.2 45.5 404.9 45.9 406.6 46.4 408.3 47.0 409.9 47.7 411.5 48.5 413.0 49.4 414.5 50.4 415.9 51.6 417.3 52.8 418.6 54.2 419.8 55.6 421.0 57.2 422.1 58.8 423.0 60.6 423.9 62.4 424.7 64.3 425.4 66.2 426.0 68.3 426.5 70.4 426.9 72.5 427.2 74.7 427.3 77.0 427.3 78.0 427.3 79.1 427.3 80.0 427.3 81.0 427.3 82.0 427.3 82.9 427.3 83.8 427.2 84.8 427.2 85.7 427.2 86.5 427.1 87.4 427.1 88.3 427.1 89.1 427.0 90.0 427.0 90.8 426.9 91.6 426.8 92.4 426.8 93.2 426.7 94.1 426.7 94.9 426.6 95.7 426.5 96.5 426.4 97.3 426.4 98.1 426.3 98.9 426.2 99.6" fill="none" stroke="#cacace" stroke-width="2.81" stroke-linejoin="round"/>
<path d="M355.8 113.2 356.5 112.8 357.2 112.3 358.0 111.8 358.7 111.3 359.5 110.7 360.2 110.0 360.8 109.3 361.5 108.6 362.1 107.9 362.7 107.0 363.3 106.2 363.8 105.3 364.3 104.4 364.8 103.4 365.3 102.4 365.7 101.4 366.0 100.3 366.4 99.2 366.6 98.0 366.9 96.8 367.1 95.6 367.3 94.4 367.4 93.1 367.4 91.8 367.5 90.4 367.5 89.1 367.5 87.9 367.6 86.8 367.7 85.7 367.8 84.6 367.9 83.5 368.0 82.4 368.1 81.4 368.2 80.3 368.3 79.2 368.5 78.2 368.7 77.1 368.8 76.1 369.0 75.0 369.2 74.0 369.4 73.0 369.7 72.0 369.9 71.0 370.2 70.0 370.5 69.0 370.7 68.0 371.0 67.0 371.4 66.0 371.7 65.0 372.0 64.0 372.4 63.0 372.8 62.1 373.4 60.9 374.1 59.6 374.8 58.4 375.6 57.3 376.3 56.2 377.0 55.2 377.8 54.3 378.6 53.4 379.4 52.6 380.2 51.9 381.0 51.1 381.8 50.5 382.7 49.8 383.6 49.3 384.5 48.7 385.4 48.2 386.3 47.7 387.3 47.3 388.3 46.9 389.3 46.6 390.3 46.3 391.4 46.0 392.5 45.8 393.7 45.6 394.8 45.5 396.0 45.3 397.8 45.3 399.6 45.3 401.4 45.4 403.1 45.6 404.9 46.0 406.6 46.5 408.2 47.0 409.9 47.7 411.5 48.5 413.0 49.4 414.5 50.4 415.9 51.6 417.3 52.8 418.7 54.2 419.9 55.6 421.1 57.1 422.2 58.8 423.2 60.5 424.1 62.3 424.9 64.2 425.6 66.2 426.2 68.2 426.7 70.3 427.1 72.5 427.4 74.7 427.5 77.0 427.5 78.0 427.5 79.1 427.5 80.0 427.5 81.0 427.5 82.0 427.5 82.9 427.5 83.9 427.5 84.8 427.4 85.7 427.4 86.5 427.4 87.4 427.3 88.3 427.3 89.1 427.2 90.0 427.2 90.8 427.1 91.6 427.1 92.5 427.0 93.3 427.0 94.1 426.9 94.9 426.8 95.7 426.8 96.5 426.7 97.3 426.6 98.1 426.5 98.9 426.4 99.7" fill="none" stroke="#f6f6f6" stroke-width="1.40" stroke-linejoin="round"/></g>
<ellipse cx="423" cy="351.3" rx="5.2" ry="2.7" transform="rotate(-14 423 351.3)" fill="#8c8c90" stroke="#4a4a4e" stroke-width="0.8"/><ellipse cx="423.5" cy="350.8" rx="3" ry="1.1" transform="rotate(-14 423 351.3)" fill="#c4c4c8"/>
</g>
<g transform="translate(411 50) rotate(40)" fill="#1866b6">
  <rect x="-7.5" y="-8.1" width="15" height="4.7" rx="1"/>
  <rect x="-7.7" y="3.5" width="15.4" height="4.7" rx="1"/>
  <rect x="-2.2" y="-5" width="4.4" height="10"/>
</g>

</svg>
</body></html>
